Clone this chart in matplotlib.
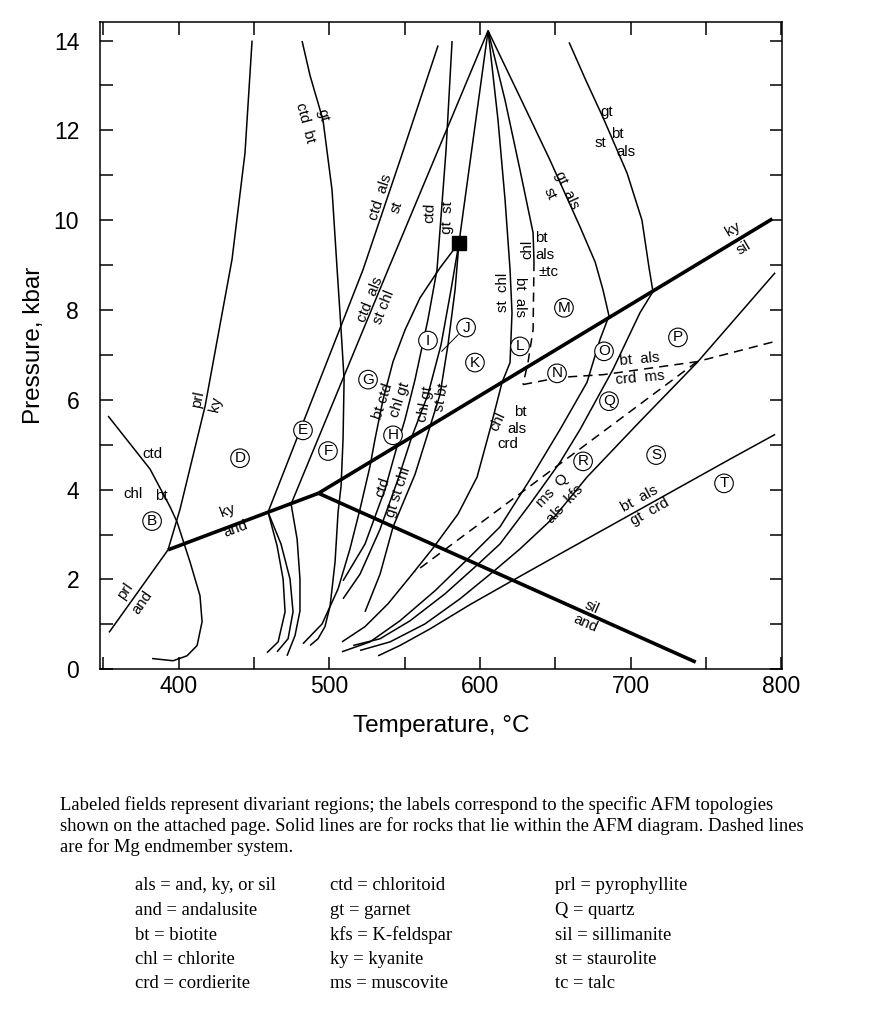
import numpy as np
import matplotlib.pyplot as plt

plt.rcParams['font.family'] = ['Liberation Sans', 'DejaVu Sans']

# temperature (C) and pressure (kbar)
prl_ky_T = [392.9, 400.9, 417.5, 435.4, 444.0, 448.7]
prl_ky_P = [2.66, 3.57, 5.86, 9.13, 11.50, 14.00]
prl_and_T = [353.7, 392.9]
prl_and_P = [0.82, 2.66]
ctd_chlbt_T = [353.1, 380.9, 394.2, 398.9, 407.5, 414.1, 415.5, 412.2, 405.5, 396.2, 382.3]
ctd_chlbt_P = [5.64, 4.46, 3.62, 3.28, 2.39, 1.64, 1.06, 0.53, 0.30, 0.19, 0.24]

ky_and_T = [392.9, 492.8]
ky_and_P = [2.66, 3.92]
ky_sil_T = [492.8, 794.2]
ky_sil_P = [3.92, 10.03]
and_sil_T = [492.8, 743.3]
and_sil_P = [3.92, 0.16]

gt_ctdbt_T = [481.9, 487.2, 495.8, 501.8, 505.1, 507.8, 509.8, 509.1, 507.8, 505.8, 503.8, 500.5, 497.1, 492.5, 487.2]
gt_ctdbt_P = [13.99, 13.22, 12.23, 10.67, 8.94, 7.56, 6.45, 5.12, 4.08, 3.50, 2.39, 1.41, 0.95, 0.68, 0.53]

ctdals_st_T = [572.2, 547.6, 522.4, 491.2, 459.3, 465.3, 469.3, 470.6, 466.0, 458.6]
ctdals_st_P = [13.89, 11.40, 8.90, 6.23, 3.50, 2.75, 2.01, 1.28, 0.61, 0.37]
ctdals_st2_T = [459.3, 467.9, 473.9, 475.9, 472.6, 465.3]
ctdals_st2_P = [3.50, 2.79, 2.01, 1.28, 0.68, 0.39]
ctdals_stchl_T = [605.4, 539.0, 474.6, 478.6, 480.5, 480.5, 477.2, 471.9]
ctdals_stchl_P = [14.22, 8.90, 3.68, 2.90, 2.01, 1.30, 0.75, 0.30]

apex_sq_T = [605.4, 586.1]
apex_sq_P = [14.22, 9.50]

ctd_gtst_T = [581.5, 577.5, 571.5, 565.5, 556.9, 550.3, 545.0, 537.0, 523.7, 509.1]
ctd_gtst_P = [13.99, 11.56, 8.90, 7.79, 6.45, 5.57, 4.97, 4.01, 2.79, 1.97]
btctd_T = [586.1, 573.5, 560.2, 550.3, 542.3, 535.7, 530.3, 527.0, 520.4, 513.7, 505.8, 495.2, 482.5]
btctd_P = [9.50, 8.94, 8.27, 7.56, 6.85, 6.01, 5.12, 4.52, 3.57, 2.68, 1.79, 1.01, 0.57]
chlgt_a_T = [586.1, 580.8, 574.2, 565.5, 554.9, 545.6, 533.7, 520.4, 509.1]
chlgt_a_P = [9.50, 8.45, 7.23, 6.12, 5.19, 4.23, 3.12, 2.12, 1.57]
chlgt_b_T = [586.1, 583.5, 578.8, 573.5, 566.9, 556.9, 542.3, 533.7, 523.7]
chlgt_b_P = [9.50, 8.45, 7.23, 6.12, 5.41, 4.34, 3.17, 2.12, 1.28]

stchl_T = [605.4, 612.0, 616.7, 620.0, 621.3, 620.0, 614.7, 606.7, 598.1, 585.5, 568.9, 553.6, 539.0, 523.7, 508.4]
stchl_P = [14.22, 12.23, 10.45, 8.90, 7.94, 6.83, 6.39, 5.34, 4.28, 3.46, 2.70, 2.06, 1.46, 0.95, 0.61]
chl_tc_T = [605.4, 616.7, 626.6, 635.3, 635.9]
chl_tc_P = [14.22, 12.67, 11.12, 9.72, 9.07]
st_gtals_T = [605.4, 626.6, 646.5, 666.5, 676.5, 681.7, 685.7, 679.7, 671.1, 653.2, 633.3, 613.3, 591.4, 570.2, 546.9, 527.0, 508.4]
st_gtals_P = [14.22, 12.74, 11.34, 9.85, 9.07, 8.45, 7.87, 7.34, 6.39, 5.34, 4.23, 3.17, 2.44, 1.75, 1.08, 0.61, 0.39]
gt_stbtals_T = [659.2, 670.4, 681.7, 697.7, 707.6, 712.3, 714.9, 706.3, 688.4, 666.5, 653.2, 633.3, 613.3, 598.1, 576.8, 553.6, 533.7, 515.8]
gt_stbtals_P = [13.96, 13.11, 12.29, 11.05, 10.00, 8.94, 8.41, 7.94, 6.68, 5.34, 4.61, 3.68, 2.79, 2.32, 1.68, 1.08, 0.68, 0.53]
msq_T = [796.0, 744.2, 706.3, 671.1, 649.9, 626.6, 608.7, 586.8, 563.5, 540.3, 520.4]
msq_P = [8.83, 6.83, 5.52, 4.28, 3.41, 2.68, 2.17, 1.57, 1.01, 0.61, 0.42]
btals_gtcrd_T = [796.0, 766.1, 653.2, 621.3, 593.4, 566.9, 546.9, 532.4]
btals_gtcrd_P = [5.23, 4.68, 2.57, 1.97, 1.44, 0.90, 0.53, 0.30]

# Mg end-member (dashed)
mg_tc_T = [635.9, 635.3, 631.9, 628.6]
mg_tc_P = [9.07, 7.56, 6.83, 6.34]
mg_crdms_T = [628.6, 653.2, 681.7, 744.2, 798.2]
mg_crdms_P = [6.34, 6.50, 6.56, 6.85, 7.32]
mg_ms_T = [744.2, 556.9]
mg_ms_P = [6.85, 2.17]

invariant_T, invariant_P = 586.1, 9.50

field_names = list('BDEFGHIJKLMNOPQRST')
field_T = [382.3, 440.7, 482.5, 499.1, 525.7, 542.3, 565.5, 590.8, 596.7, 626.6,
           655.8, 651.2, 682.4, 731.5, 685.7, 668.5, 717.0, 762.1]
field_P = [3.30, 4.70, 5.32, 4.86, 6.45, 5.21, 7.32, 7.61, 6.83, 7.19,
           8.05, 6.59, 7.08, 7.39, 5.97, 4.63, 4.77, 4.14]

# reaction labels: text, T, P, rotation
rx_text = ['prl', 'ky', 'ctd', 'chl', 'bt', 'ky', 'and', 'prl', 'and',
           'gt', 'ctd  bt', 'ctd  als', 'st', 'ctd', 'gt  st', 'st', 'gt  als',
           'gt', 'bt', 'st', 'als', 'chl', 'bt', 'als', '±tc',
           'st  chl', 'bt  als', 'ctd  als', 'st chl', 'bt ctd', 'chl gt',
           'chl gt', 'st bt', 'ctd', 'gt st chl', 'chl', 'bt', 'als', 'crd',
           'bt  als', 'crd  ms', 'ms  Q', 'als  kfs', 'bt  als', 'gt  crd',
           'sil', 'and', 'ky', 'sil']
rx_T = [413.0, 424.8, 382.3, 369.6, 388.2, 432.7, 438.0, 364.3, 375.6,
        495.8, 483.9, 533.7, 544.9, 566.9, 578.8, 646.5, 657.8,
        684.4, 691.0, 679.7, 697.0, 631.3, 640.6, 643.3, 645.3,
        615.6, 626.4, 527.0, 536.3, 535.7, 547.0,
        563.5, 574.8, 535.7, 545.6, 612.0, 626.6, 624.6, 618.7,
        706.3, 706.3, 648.5, 656.5, 706.3, 713.0,
        674.4, 669.8, 768.2, 774.9]
rx_P = [6.01, 5.90, 4.79, 3.90, 3.86, 3.52, 3.12, 1.73, 1.48,
        12.34, 12.16, 10.51, 10.29, 10.16, 10.07, 10.60, 10.67,
        12.42, 11.91, 11.71, 11.51, 9.34, 9.60, 9.23, 8.85,
        8.39, 8.30, 8.23, 8.07, 5.96, 6.01,
        5.90, 6.05, 4.06, 3.94, 5.52, 5.72, 5.34, 5.01,
        6.90, 6.50, 3.97, 3.68, 3.79, 3.50,
        1.39, 1.01, 9.79, 9.38]
rx_rot = [78, 78, 0, 0, 0, 20.6, 20.6, 55, 55,
          -75, -75, 72, 72, 88, 88, -65, -65,
          0, 0, 0, 0, 90, 0, 0, 0,
          90, -90, 68, 68, 72, 72,
          80, 80, 72, 72, 65, 0, 0, 0,
          5, 5, 47, 47, 29, 29,
          -24, -24, 31, 31]

fig = plt.figure(figsize=(8.84, 10.24), dpi=100)
ax = fig.add_axes([0.1131, 0.3464, 0.7712, 0.6324])

thin = [(prl_ky_T, prl_ky_P), (prl_and_T, prl_and_P), (ctd_chlbt_T, ctd_chlbt_P),
        (gt_ctdbt_T, gt_ctdbt_P), (ctdals_st_T, ctdals_st_P), (ctdals_st2_T, ctdals_st2_P),
        (ctdals_stchl_T, ctdals_stchl_P), (apex_sq_T, apex_sq_P), (ctd_gtst_T, ctd_gtst_P),
        (btctd_T, btctd_P), (chlgt_a_T, chlgt_a_P), (chlgt_b_T, chlgt_b_P),
        (stchl_T, stchl_P), (chl_tc_T, chl_tc_P), (st_gtals_T, st_gtals_P),
        (gt_stbtals_T, gt_stbtals_P), (msq_T, msq_P), (btals_gtcrd_T, btals_gtcrd_P)]
for t, p in thin:
    ax.plot(t, p, color='black', lw=1.1, solid_capstyle='butt')

for t, p in [(mg_tc_T, mg_tc_P), (mg_crdms_T, mg_crdms_P), (mg_ms_T, mg_ms_P)]:
    ax.plot(t, p, color='black', lw=1.1, dashes=(6, 4))

for t, p in [(ky_and_T, ky_and_P), (ky_sil_T, ky_sil_P), (and_sil_T, and_sil_P)]:
    ax.plot(t, p, color='black', lw=2.6, solid_capstyle='butt')

ax.plot(invariant_T, invariant_P, marker='s', color='black', ms=9.5)
ax.plot([585.5, 574.6], [7.45, 7.08], color='black', lw=0.7)

for s, t, p in zip(field_names, field_T, field_P):
    ax.text(t, p, s, ha='center', va='center', fontsize=11,
            bbox=dict(boxstyle='circle,pad=0.15', fc='white', ec='black', lw=0.8))

for s, t, p, r in zip(rx_text, rx_T, rx_P, rx_rot):
    ax.text(t, p, s, ha='center', va='center', fontsize=10.8, rotation=r,
            rotation_mode='anchor')

ax.set_xlim(347.7, 800.4)
ax.set_ylim(0, 14.42)
ax.set_xticks([400, 500, 600, 700, 800])
ax.set_xticks([350, 450, 550, 650, 750], minor=True)
ax.set_yticks([0, 2, 4, 6, 8, 10, 12, 14])
ax.set_yticks([1, 3, 5, 7, 9, 11, 13], minor=True)
ax.tick_params(which='both', direction='in', length=9, width=1.1, top=True, right=True)
ax.tick_params(axis='x', labelsize=16.5, pad=4)
ax.tick_params(axis='y', labelsize=16.5, pad=15)
for sp in ax.spines.values():
    sp.set_linewidth(1.1)
ax.set_xlabel('Temperature, °C', fontsize=17.5, labelpad=12)
ax.set_ylabel('Pressure, kbar', fontsize=17.5, labelpad=6)

serif = 'Liberation Serif'
caption = ('Labeled fields represent divariant regions; the labels correspond to the specific AFM topologies\n'
           'shown on the attached page. Solid lines are for rocks that lie within the AFM diagram. Dashed lines\n'
           'are for Mg endmember system.')
fig.text(60 / 884, 1 - 796 / 1024, caption, fontsize=13.4, family=serif, va='top',
         linespacing=1.23)

abbrev_col1 = ['als = and, ky, or sil', 'and = andalusite', 'bt = biotite', 'chl = chlorite', 'crd = cordierite']
abbrev_col2 = ['ctd = chloritoid', 'gt = garnet', 'kfs = K-feldspar', 'ky = kyanite', 'ms = muscovite']
abbrev_col3 = ['prl = pyrophyllite', 'Q = quartz', 'sil = sillimanite', 'st = staurolite', 'tc = talc']
for x0, col in zip([135, 330, 555], [abbrev_col1, abbrev_col2, abbrev_col3]):
    for i, s in enumerate(col):
        fig.text(x0 / 884, 1 - (886 + 24.5 * i) / 1024, s, fontsize=13.4, family=serif, va='center')

fig.savefig('out.png', dpi=100)
